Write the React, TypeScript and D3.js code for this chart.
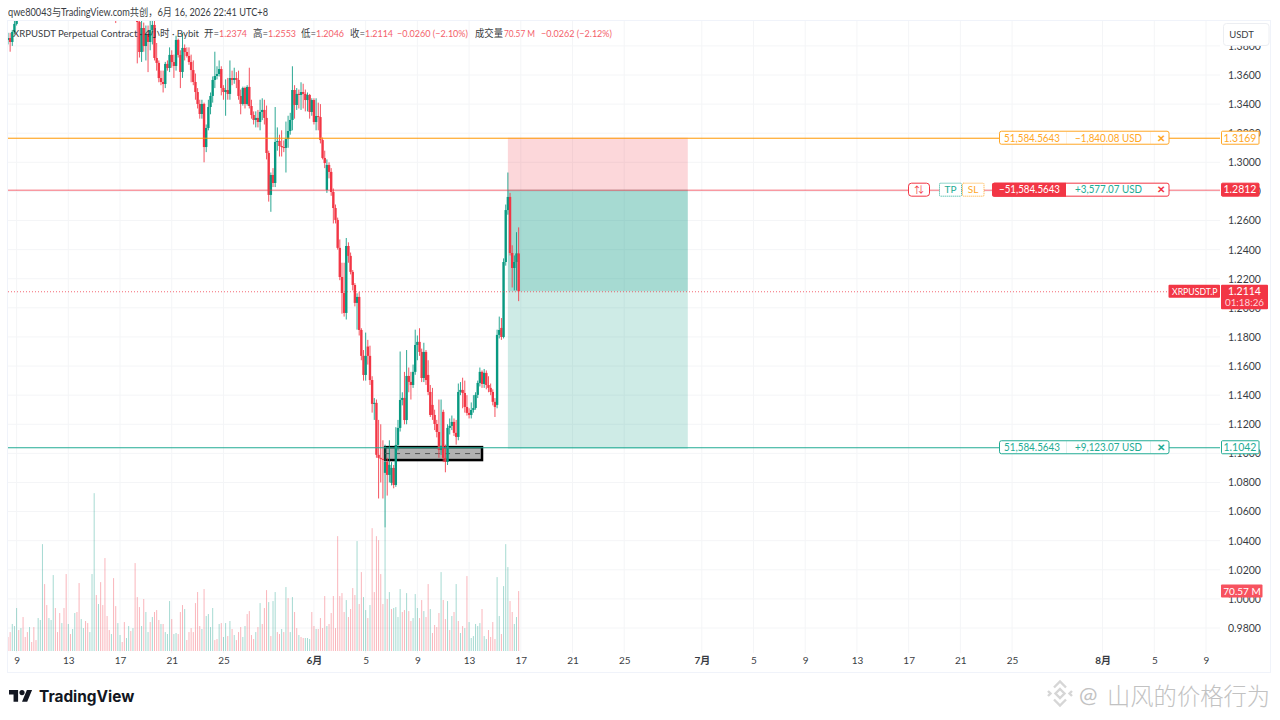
import React, { useEffect, useRef } from 'react';
import * as d3 from 'd3';

const HOUR = 3600 * 1000;
const firstBar = Date.UTC(2026, 4, 8, 8);
const barStep = 4 * HOUR;

// 4h bars. Bars 5-49 and 51-59 sit above the visible price range, so they have no candle values.
const closes: (number | null)[] = [
  1.3854, 1.3827, 1.3896, 1.3951, 1.406,
  ...Array(45).fill(null), 1.402, ...Array(9).fill(null),
  1.3964, 1.3758, 1.3923, 1.3799, 1.3882, 1.3827, 1.3909, 1.3944, 1.3717, 1.3683,
  1.3579, 1.3552, 1.3538, 1.3676, 1.3648, 1.3738, 1.3689, 1.3662, 1.3841, 1.3738,
  1.3621, 1.3786, 1.3758, 1.3731, 1.3689, 1.3634, 1.3552, 1.3483, 1.3401, 1.3332,
  1.3401, 1.3105, 1.3236, 1.338, 1.3456, 1.3566, 1.3593, 1.3607, 1.3641, 1.3511,
  1.3483, 1.3497, 1.347, 1.3579, 1.3566, 1.3579, 1.3566, 1.3456, 1.3401, 1.3511,
  1.3401, 1.3518, 1.3387, 1.3325, 1.3291, 1.3305, 1.3277, 1.3346, 1.336, 1.3305,
  1.3064, 1.2776, 1.2913, 1.2858, 1.314, 1.3147, 1.3112, 1.3105, 1.3099, 1.316,
  1.3215, 1.3291, 1.3497, 1.3394, 1.347, 1.3463, 1.3483, 1.347, 1.3428, 1.3463,
  1.3346, 1.3428, 1.3277, 1.3318, 1.3311, 1.3153, 1.303, 1.2995, 1.2982, 1.2934,
  1.2796, 1.2686, 1.2604, 1.2412, 1.2212, 1.2102, 1.1965, 1.2425, 1.2357, 1.2247,
  1.2157, 1.2034, 1.2075, 1.1848, 1.167, 1.1539, 1.167, 1.167, 1.1504, 1.134,
  1.1347, 1.099, 1.0969, 1.0962, 1.0955, 1.0941, 1.0852, 1.0921, 1.09, 1.0783,
  1.1058, 1.1175, 1.1367, 1.1381, 1.1229, 1.1532, 1.1491, 1.147, 1.156, 1.1745,
  1.1766, 1.1697, 1.1518, 1.1697, 1.1504, 1.1422, 1.1264, 1.1264, 1.1202, 1.1147,
  1.1023, 1.1051, 1.0969, 1.0941, 1.1175, 1.1189, 1.1216, 1.1141, 1.1113, 1.1422,
  1.1436, 1.1415, 1.1319, 1.1278, 1.1264, 1.1298, 1.1312, 1.1402, 1.1484, 1.156,
  1.1477, 1.1553, 1.147, 1.145, 1.1422, 1.1354, 1.1319, 1.1814, 1.1848, 1.18,
  1.2315, 1.2672, 1.2762, 1.2377, 1.2274, 1.2315, 1.2374, 1.2114,
];

const highs: (number | null)[] = [
  1.389, 1.389, 1.391, 1.399, 1.412,
  ...Array(45).fill(null), 1.41, ...Array(9).fill(null),
  1.408, 1.401, 1.399, 1.396, 1.394, 1.394, 1.398, 1.398, 1.398, 1.382,
  1.37, 1.363, 1.363, 1.369, 1.37, 1.379, 1.377, 1.374, 1.387, 1.385,
  1.377, 1.389, 1.381, 1.379, 1.379, 1.374, 1.37, 1.361, 1.351, 1.343,
  1.343, 1.341, 1.326, 1.343, 1.348, 1.359, 1.376, 1.366, 1.37, 1.366,
  1.353, 1.357, 1.358, 1.37, 1.363, 1.365, 1.362, 1.363, 1.35, 1.352,
  1.352, 1.353, 1.365, 1.343, 1.335, 1.335, 1.336, 1.343, 1.344, 1.343,
  1.339, 1.308, 1.293, 1.296, 1.338, 1.324, 1.319, 1.322, 1.315, 1.328,
  1.332, 1.334, 1.366, 1.353, 1.351, 1.35, 1.355, 1.354, 1.35, 1.348,
  1.347, 1.344, 1.344, 1.344, 1.341, 1.34, 1.317, 1.308, 1.302, 1.3,
  1.296, 1.282, 1.271, 1.262, 1.247, 1.231, 1.231, 1.248, 1.245, 1.238,
  1.226, 1.217, 1.21, 1.211, 1.186, 1.171, 1.183, 1.178, 1.174, 1.153,
  1.138, 1.137, 1.123, 1.12, 1.109, 1.106, 1.097, 1.109, 1.094, 1.092,
  1.118, 1.123, 1.17, 1.142, 1.156, 1.171, 1.159, 1.156, 1.161, 1.185,
  1.181, 1.186, 1.172, 1.176, 1.171, 1.164, 1.147, 1.145, 1.13, 1.123,
  1.137, 1.137, 1.13, 1.106, 1.12, 1.124, 1.126, 1.124, 1.123, 1.148,
  1.149, 1.152, 1.15, 1.14, 1.131, 1.135, 1.14, 1.142, 1.15, 1.159,
  1.157, 1.158, 1.157, 1.153, 1.148, 1.144, 1.138, 1.185, 1.194, 1.193,
  1.234, 1.271, 1.293, 1.279, 1.243, 1.236, 1.252, 1.2553,
];

const lows: (number | null)[] = [
  1.381, 1.376, 1.38, 1.388, 1.394,
  ...Array(45).fill(null), 1.3957, ...Array(9).fill(null),
  1.368, 1.372, 1.369, 1.376, 1.37, 1.362, 1.377, 1.381, 1.37, 1.363,
  1.355, 1.353, 1.348, 1.351, 1.363, 1.362, 1.365, 1.358, 1.363, 1.372,
  1.351, 1.358, 1.37, 1.372, 1.367, 1.355, 1.353, 1.343, 1.337, 1.33,
  1.33, 1.3, 1.307, 1.322, 1.333, 1.341, 1.351, 1.357, 1.359, 1.346,
  1.343, 1.332, 1.343, 1.343, 1.353, 1.354, 1.351, 1.343, 1.333, 1.339,
  1.337, 1.339, 1.337, 1.33, 1.326, 1.324, 1.324, 1.322, 1.329, 1.326,
  1.302, 1.273, 1.266, 1.283, 1.283, 1.308, 1.304, 1.304, 1.307, 1.293,
  1.31, 1.319, 1.322, 1.33, 1.336, 1.337, 1.336, 1.337, 1.335, 1.335,
  1.33, 1.332, 1.326, 1.322, 1.322, 1.313, 1.302, 1.296, 1.279, 1.289,
  1.277, 1.258, 1.258, 1.24, 1.219, 1.196, 1.194, 1.192, 1.231, 1.223,
  1.212, 1.201, 1.185, 1.181, 1.164, 1.15, 1.15, 1.161, 1.147, 1.128,
  1.123, 1.097, 1.069, 1.08, 1.069, 1.049, 1.071, 1.08, 1.078, 1.076,
  1.077, 1.102, 1.115, 1.133, 1.12, 1.12, 1.142, 1.137, 1.145, 1.154,
  1.164, 1.167, 1.149, 1.149, 1.147, 1.14, 1.125, 1.123, 1.116, 1.111,
  1.097, 1.099, 1.094, 1.087, 1.092, 1.113, 1.116, 1.112, 1.106, 1.109,
  1.14, 1.131, 1.128, 1.126, 1.124, 1.124, 1.128, 1.13, 1.138, 1.146,
  1.145, 1.145, 1.144, 1.142, 1.14, 1.133, 1.125, 1.131, 1.179, 1.178,
  1.179, 1.229, 1.264, 1.236, 1.214, 1.212, 1.212, 1.2046,
];

// opens follow the previous close except on these bars
const openOverrides: Record<number, number> = {
  0: 1.3841, 50: 1.405, 60: 1.4047, 148: 1.281, 167: 1.1734, 175: 1.0866, 178: 1.0797,
  195: 1.1539, 197: 1.1333, 202: 1.1285, 227: 1.1333, 229: 1.1862, 237: 1.2374,
};

// volume in millions
const volumes = [
  16.5, 22.3, 31.8, 29.4, 50.6, 24.7, 27, 40, 16.5, 22.3, 28.2, 10.6, 28.2, 12.9, 38.8, 36.5, 125.8, 78.8, 54.1, 38.8,
  36.5, 89.4, 50.6, 22.3, 44.7, 32.9, 50.6, 90.6, 31.8, 20, 25.9, 44.7, 45.9, 80, 37.6, 27, 35.3, 32.9, 22.3, 90.6,
  185.8, 65.9, 55.3, 81.1, 54.1, 109.4, 41.2, 24.7, 20, 85.8, 52.9, 32.9, 18.8, 10.6, 34.1, 15.3, 29.4, 23.5, 27, 103.5,
  63.5, 51.7, 29.4, 61.2, 45.9, 22.3, 34.1, 40, 45.9, 48.2, 36.5, 31.8, 31.8, 22.3, 20, 58.8, 37.6, 20, 21.2, 20,
  45.9, 54.1, 49.4, 12.9, 22.3, 27, 22.3, 56.4, 69.4, 29.4, 25.9, 72.9, 41.2, 43.5, 28.2, 50.6, 12.9, 14.1, 31.8, 32.9,
  16.5, 32.9, 17.6, 35.3, 25.9, 18.8, 12.9, 22.3, 28.2, 16.5, 29.4, 43.5, 47, 18.8, 14.1, 22.3, 28.2, 56.4, 31.8, 50.6,
  71.7, 57.6, 17.6, 58.8, 69.4, 22.3, 20, 25.9, 22.3, 75.3, 62.3, 22.3, 63.5, 45.9, 27, 18.8, 16.5, 15.3, 15.3, 15.3,
  14.1, 45.9, 29.4, 25.9, 25.9, 38.8, 27, 64.7, 29.4, 31.8, 44.7, 64.7, 27, 135.2, 64.7, 68.2, 45.9, 60, 40, 49.4,
  74.1, 65.9, 129.4, 55.3, 92.9, 63.5, 48.2, 38.8, 54.1, 144.6, 69.4, 135.2, 130.5, 90.6, 55.3, 144.6, 61.2, 69.4, 49.4, 50.6,
  51.7, 40, 72.9, 45.9, 48.2, 68.2, 47, 35.3, 38.8, 67, 50.6, 38.8, 60, 47, 40, 78.8, 49.4, 21.2, 30.6, 28.2,
  44.7, 92.9, 60, 37.6, 58.8, 24.7, 41.2, 45.9, 78.8, 35.3, 21.2, 29.4, 27, 88.2, 34.1, 15.3, 17.6, 31.8, 29.4, 32.9,
  49.4, 17.6, 14.1, 24.7, 16.5, 34.1, 14.1, 87, 41.2, 20, 76.4, 125.8, 98.8, 58.8, 45.9, 31.8, 40, 70.57,
];

// u = rising bar, d = falling bar
const volumeDirs = [
  'dduuududdduddduuuddu',
  'uuddduddu' + 'duuddu' + 'udduu',
  'ududddddudduudduudud',
  'dduduududdduduuuduud',
  'dduddddddduduuuuddud',
  'uudududdduuddddududd',
  'duduuddududuuddudduud'.slice(0, 20),
  'uddudddduddddddddudd',
  'ddudduududdddddududu',
  'uuuddudduuuddudduddd',
  'duddudududududuuuuuu',
  'duuddddu' + 'uduuudduud',
].join('');

const priceTicks = [1.38, 1.36, 1.34, 1.32, 1.3, 1.28, 1.26, 1.24, 1.22, 1.2, 1.18, 1.16, 1.14, 1.12, 1.1, 1.08, 1.06, 1.04, 1.02, 1.0, 0.98];

const timeTicks = [
  [4, 9], [4, 13], [4, 17], [4, 21], [4, 25], [5, 1], [5, 5], [5, 9], [5, 13], [5, 17], [5, 21], [5, 25],
  [6, 1], [6, 5], [6, 9], [6, 13], [6, 17], [6, 21], [6, 25], [7, 1], [7, 5], [7, 9],
].map(([m, d]) => new Date(Date.UTC(2026, m, d)));

const stopPrice = 1.3169;
const entryPrice = 1.2812;
const lastPrice = 1.2114;
const targetPrice = 1.1042;
const positionStart = new Date(Date.UTC(2026, 5, 16, 0));
const positionEnd = new Date(Date.UTC(2026, 5, 29, 22));
const zoneStart = new Date(Date.UTC(2026, 5, 6, 12));
const zoneEnd = new Date(Date.UTC(2026, 5, 14, 0));
const zoneTop = 1.1043;
const zoneBottom = 1.0954;

const UP = '#089981';
const DOWN = '#f23645';
const ORANGE = '#ff9800';
const TEXT = '#131722';
const FONT = 'Lato, "Noto Sans CJK SC", sans-serif';

const App: React.FC = () => {
  const svgRef = useRef<SVGSVGElement>(null);

  useEffect(() => {
    if (!svgRef.current) return;
    const svg = d3.select(svgRef.current);
    svg.selectAll('*').remove();
    svg.style('font-family', FONT);

    const width = 1280;
    const height = 720;
    const left = 8;
    const right = 1220;
    const top = 21;
    const bottom = 672;

    const x = d3.scaleUtc()
      .domain([new Date(Date.UTC(2026, 4, 9)), new Date(Date.UTC(2026, 7, 9))])
      .range([16.6, 1206]);
    const y = d3.scaleLinear().domain([1.36, 0.98]).range([75, 628]);
    const yVol = d3.scaleLinear().domain([0, 186]).range([651, 493]);
    const barX = (i: number) => x(new Date(firstBar + i * barStep));

    svg.append('rect').attr('width', width).attr('height', height).attr('fill', '#fff');

    const clip = svg.append('defs').append('clipPath').attr('id', 'pane');
    clip.append('rect').attr('x', left).attr('y', top).attr('width', right - left).attr('height', bottom - top);

    // frame
    svg.append('rect')
      .attr('x', 7.5).attr('y', 20.5).attr('width', 1263).attr('height', 652)
      .attr('fill', 'none').attr('stroke', '#f0f3fa');

    // grid
    const grid = svg.append('g').attr('stroke', '#f4f5f7');
    grid.selectAll('line.v').data(timeTicks).join('line')
      .attr('class', 'v')
      .attr('x1', d => x(d)).attr('x2', d => x(d)).attr('y1', top).attr('y2', 653);
    grid.selectAll('line.h').data(priceTicks).join('line')
      .attr('class', 'h')
      .attr('x1', left).attr('x2', right).attr('y1', d => y(d)).attr('y2', d => y(d));

    // axes
    const yAxis = svg.append('g')
      .attr('transform', `translate(1224,0)`)
      .call(d3.axisRight(y).tickValues(priceTicks).tickSize(0).tickPadding(4).tickFormat(d3.format('.4f') as any));
    yAxis.select('.domain').remove();
    yAxis.selectAll('text').attr('fill', TEXT).attr('font-size', 10.5).attr('font-family', FONT).attr('opacity', 0.85);

    const xAxis = svg.append('g')
      .attr('transform', `translate(0,654)`)
      .call(d3.axisBottom(x).tickValues(timeTicks).tickSize(0).tickPadding(3)
        .tickFormat((d: any) => (d.getUTCDate() === 1 ? `${d.getUTCMonth() + 1}月` : `${d.getUTCDate()}`)));
    xAxis.select('.domain').remove();
    xAxis.selectAll('text')
      .attr('fill', TEXT).attr('font-size', 10).attr('font-family', FONT).attr('opacity', 0.85)
      .attr('font-weight', (d: any) => (d.getUTCDate() === 1 ? 700 : 400));

    const pane = svg.append('g').attr('clip-path', 'url(#pane)');

    // long/short position zones
    const posX = x(positionStart);
    const posW = x(positionEnd) - posX;
    pane.append('rect').attr('x', posX).attr('width', posW)
      .attr('y', y(stopPrice)).attr('height', y(entryPrice) - y(stopPrice))
      .attr('fill', DOWN).attr('fill-opacity', 0.2);
    pane.append('rect').attr('x', posX).attr('width', posW)
      .attr('y', y(entryPrice)).attr('height', y(lastPrice) - y(entryPrice))
      .attr('fill', UP).attr('fill-opacity', 0.36);
    pane.append('rect').attr('x', posX).attr('width', posW)
      .attr('y', y(lastPrice)).attr('height', y(targetPrice) - y(lastPrice) + 1.5)
      .attr('fill', UP).attr('fill-opacity', 0.2);

    // grey demand box
    pane.append('rect')
      .attr('x', x(zoneStart)).attr('width', x(zoneEnd) - x(zoneStart))
      .attr('y', y(zoneTop)).attr('height', y(zoneBottom) - y(zoneTop))
      .attr('fill', '#b2b2b2').attr('stroke', '#000').attr('stroke-width', 2.5);
    pane.append('line')
      .attr('x1', x(zoneStart)).attr('x2', x(zoneEnd))
      .attr('y1', (y(zoneTop) + y(zoneBottom)) / 2).attr('y2', (y(zoneTop) + y(zoneBottom)) / 2)
      .attr('stroke', '#555').attr('stroke-dasharray', '5,5');

    // volume
    pane.append('g').selectAll('rect').data(volumes).join('rect')
      .attr('x', (_, i) => barX(i) - 0.5)
      .attr('width', 1)
      .attr('y', d => yVol(d))
      .attr('height', d => yVol(0) - yVol(d))
      .attr('fill', (_, i) => (volumeDirs[i] === 'u' ? UP : DOWN))
      .attr('fill-opacity', 0.36);

    // candles
    const candles = closes.map((c, i) => ({
      i,
      c,
      o: openOverrides[i] ?? (i > 0 ? closes[i - 1] : null),
      h: highs[i],
      l: lows[i],
    })).filter(d => d.c !== null && d.o !== null);
    const g = pane.append('g').selectAll('g').data(candles).join('g')
      .attr('fill', d => (d.c! >= d.o! ? UP : DOWN));
    g.append('rect')
      .attr('x', d => barX(d.i) - 0.5).attr('width', 1)
      .attr('y', d => y(d.h!)).attr('height', d => y(d.l!) - y(d.h!))
      .attr('fill-opacity', 0.85);
    g.append('rect')
      .attr('x', d => barX(d.i) - 1.2).attr('width', 2.4)
      .attr('y', d => Math.min(y(d.o!), y(d.c!)))
      .attr('height', d => Math.max(1, Math.abs(y(d.o!) - y(d.c!))));

    // price lines
    const hLine = (price: number, color: string, opacity = 1, dash?: string) =>
      svg.append('line')
        .attr('x1', left).attr('x2', right)
        .attr('y1', y(price) + 0.5).attr('y2', y(price) + 0.5)
        .attr('stroke', color).attr('stroke-opacity', opacity)
        .attr('stroke-dasharray', dash ?? null);
    hLine(stopPrice, ORANGE);
    hLine(entryPrice, DOWN, 0.75);
    hLine(targetPrice, '#22ab94');
    hLine(lastPrice, DOWN, 0.75, '1,2').attr('x2', 1169);

    const box = (bx: number, by: number, w: number, h: number, fill: string, stroke: string, r = 2) =>
      svg.append('rect').attr('x', bx + 0.5).attr('y', by + 0.5).attr('width', w - 1).attr('height', h - 1)
        .attr('rx', r).attr('fill', fill).attr('stroke', stroke);
    const label = (t: string, tx: number, ty: number, fill: string, size = 10.5, anchor = 'start', weight = 400) =>
      svg.append('text').attr('x', tx).attr('y', ty + 3.8).attr('fill', fill).attr('font-size', size)
        .attr('text-anchor', anchor).attr('font-weight', weight).text(t);
    const fitted = (t: string, tx: number, ty: number, fill: string, size: number, w: number) =>
      label(t, tx, ty, fill, size).attr('textLength', w).attr('lengthAdjust', 'spacingAndGlyphs');

    // order rows on the stop and target lines
    const orderRow = (price: number, color: string, qty: string, pnl: string) => {
      const cy = y(price);
      box(999, cy - 7, 170.5, 14, '#fff', color);
      fitted(qty, 1004, cy, color, 10.5, 56);
      fitted(pnl, 1075, cy, color, 10.5, 67);
      label('✕', 1160.5, cy, color, 10, 'middle', 700);
      svg.append('line').attr('x1', 1066.5).attr('x2', 1066.5).attr('y1', cy - 6).attr('y2', cy + 6).attr('stroke', color).attr('stroke-opacity', 0.15);
      svg.append('line').attr('x1', 1150.5).attr('x2', 1150.5).attr('y1', cy - 6).attr('y2', cy + 6).attr('stroke', color).attr('stroke-opacity', 0.15);
    };
    orderRow(stopPrice, '#ffa726', '51,584.5643', '−1,840.08 USD');
    orderRow(targetPrice, '#22ab94', '51,584.5643', '+9,123.07 USD');

    // entry row
    const ey = y(entryPrice);
    box(908, ey - 7, 22, 14, '#fff', DOWN, 3);
    label('⇅', 919, ey, DOWN, 9.5, 'middle');
    box(939, ey - 7, 23, 14, '#fff', '#22ab94', 1).attr('stroke-dasharray', '1,1');
    label('TP', 950.5, ey, '#22ab94', 10, 'middle');
    box(962, ey - 7, 22.5, 14, '#fff', '#ffa726', 1).attr('stroke-dasharray', '1,1');
    label('SL', 973, ey, '#ffa726', 10, 'middle');
    box(992, ey - 7, 177.5, 14, '#fff', DOWN);
    svg.append('path')
      .attr('d', `M1066,${ey - 7}H994a2,2 0 0 0 -2,2V${ey + 5}a2,2 0 0 0 2,2H1066Z`)
      .attr('fill', DOWN);
    fitted('−51,584.5643', 999, ey, '#fff', 10.5, 61);
    fitted('+3,577.07 USD', 1075, ey, '#22ab94', 10.5, 67);
    label('✕', 1160.5, ey, DOWN, 10, 'middle', 700);

    // axis tags
    const tag = (price: number, fill: string, stroke: string, color: string) => {
      const cy = y(price);
      box(1221, cy - 7, 38.5, 14, fill, stroke, 1);
      label(d3.format('.4f')(price), 1240, cy, color, 10.5, 'middle');
    };
    tag(stopPrice, '#fff', '#ffa726', '#ffa726');
    tag(entryPrice, DOWN, DOWN, '#fff');
    tag(targetPrice, '#fff', '#22ab94', '#22ab94');

    const ly = y(lastPrice);
    svg.append('rect').attr('x', 1168.5).attr('y', ly - 6.5).attr('width', 51.5).attr('height', 13).attr('rx', 1).attr('fill', DOWN);
    fitted('XRPUSDT.P', 1172, ly, '#fff', 10, 45.5);
    svg.append('rect').attr('x', 1221).attr('y', ly - 6.5).attr('width', 47).attr('height', 24.5).attr('rx', 1).attr('fill', DOWN);
    label('1.2114', 1228, ly, '#fff', 10.5);
    label('01:18:26', 1244.5, ly + 11, '#ffd5d9', 9.8, 'middle');

    svg.append('rect').attr('x', 1221).attr('y', yVol(70.57) - 6.5).attr('width', 41.5).attr('height', 13).attr('rx', 1).attr('fill', '#f7525f');
    label('70.57 M', 1242, yVol(70.57), '#fff', 10, 'middle');

    box(1223, 23, 46.5, 23, '#fff', '#eceef2', 3);
    label('USDT', 1241.5, 34.5, TEXT, 9.5, 'middle').attr('opacity', 0.85);

    // header and legend
    fitted('qwe80043与TradingView.com共创，6月 16, 2026 22:41 UTC+8', 8, 12, TEXT, 10.5, 260).attr('opacity', 0.85);
    fitted('XRPUSDT Perpetual Contract · 4小时 · Bybit', 13, 33, TEXT, 10, 186).attr('opacity', 0.85);
    const legend: [string, number, string, number][] = [
      ['开=', 204, TEXT, 15], ['1.2374', 219, DOWN, 28],
      ['高=', 253, TEXT, 15], ['1.2553', 268, DOWN, 28],
      ['低=', 301, TEXT, 15], ['1.2046', 316, DOWN, 28],
      ['收=', 350, TEXT, 15], ['1.2114', 365, DOWN, 28],
      ['−0.0260 (−2.10%)', 397, DOWN, 71],
      ['成交量', 475, TEXT, 28], ['70.57 M', 504, DOWN, 31],
      ['−0.0262 (−2.12%)', 541, DOWN, 71],
    ];
    legend.forEach(([t, lx, c, w]) => fitted(t, lx, 33, c, 10, w).attr('opacity', c === TEXT ? 0.85 : 0.8));

    // TradingView mark
    const logo = svg.append('g').attr('transform', 'translate(9,687.4) scale(0.65)').attr('fill', TEXT);
    logo.append('path').attr('d', 'M14 22H7V11H0V4h14v18zM28 22h-8l7.5-18h8L28 22z');
    logo.append('circle').attr('cx', 20).attr('cy', 8).attr('r', 4);
    svg.append('text').attr('x', 39).attr('y', 702).attr('font-size', 15.4).attr('font-weight', 700)
      .attr('font-family', 'Inter, Roboto, sans-serif').attr('fill', TEXT).text('TradingView');

    // watermark
    const mark = svg.append('g').attr('transform', 'translate(1060,693.5)')
      .attr('fill', 'none').attr('stroke', '#d6d6d6').attr('stroke-width', 2.4);
    mark.append('path').attr('d', 'M-6,-6L0,-12L6,-6M-6,6L0,12L6,6M-12,-2.5L-9.5,0L-12,2.5M12,-2.5L9.5,0L12,2.5');
    mark.append('path').attr('d', 'M0,-4.5L4.5,0L0,4.5L-4.5,0Z');
    svg.append('text').attr('x', 1079).attr('y', 703).attr('font-size', 22).attr('fill', '#c2c2c2').text('@');
    svg.append('text').attr('x', 1107).attr('y', 704.5).attr('font-size', 23.3).attr('fill', '#c2c2c2')
      .attr('font-family', '"Noto Sans CJK SC"').attr('font-weight', 300).text('山风的价格行为');
  }, []);

  return <svg ref={svgRef} width={1280} height={720} style={{ position: 'fixed', left: 0, top: 0 }} />;
};

export default App;
